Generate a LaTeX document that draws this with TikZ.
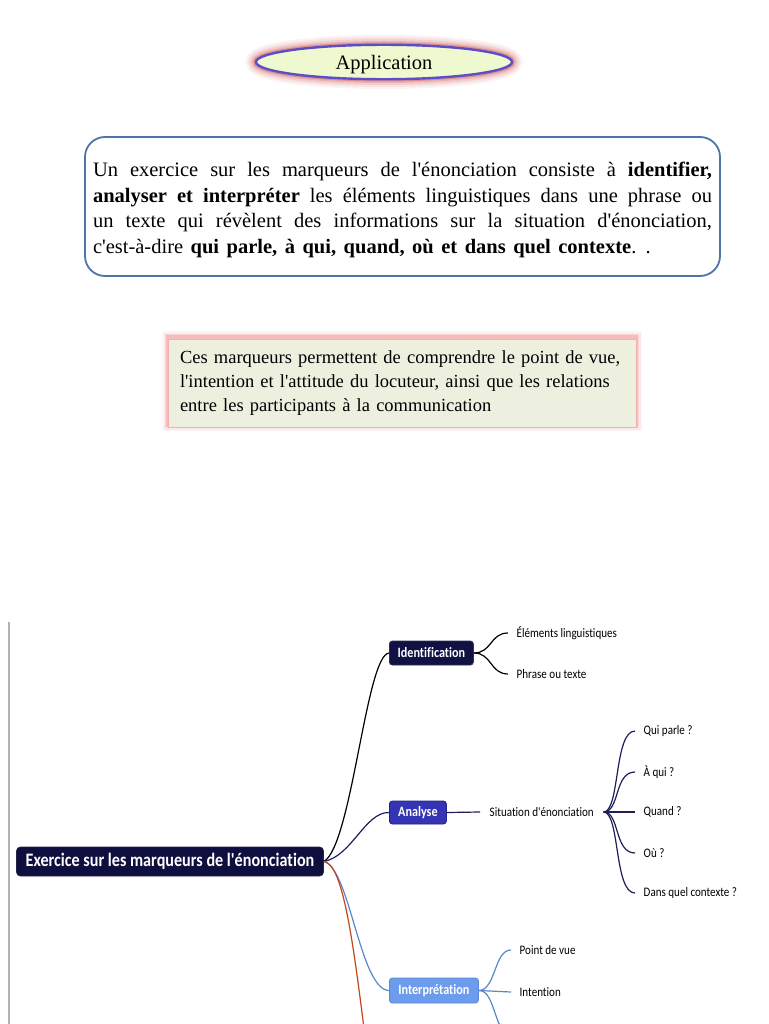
\documentclass[tikz,border=0pt]{standalone}
\usepackage{fontspec}
\setmainfont{Liberation Serif}[Ligatures=TeXOff]
\newfontfamily\mapcond{Carlito}[Ligatures=CommonOff, FakeStretch=0.85]
\usetikzlibrary{shapes.geometric}
\definecolor{appfill}{HTML}{EEF9CF}
\definecolor{appborder}{HTML}{5B4FC8}
\definecolor{appglow}{HTML}{D05A5A}
\definecolor{boxblue}{HTML}{4E74A8}
\definecolor{notefill}{HTML}{EEF0DF}
\definecolor{noteglow}{HTML}{F08C8C}
\definecolor{rootfill}{HTML}{0F0F3F}
\definecolor{idfill}{HTML}{111145}
\definecolor{anfill}{HTML}{3434B4}
\definecolor{anborder}{HTML}{22228C}
\definecolor{infill}{HTML}{6C9CEB}
\definecolor{inborder}{HTML}{5A88D8}
\definecolor{navyline}{HTML}{1E1E5A}
\definecolor{blueline}{HTML}{5A86D0}
\definecolor{orangeline}{HTML}{C4461A}
\tikzset{
  rootbox/.style={rounded corners=4pt, fill=rootfill, draw=rootfill!80!gray, line width=0.8pt,
    minimum width=307pt, minimum height=29pt, inner sep=0pt, text=white,
    font=\mapcond\bfseries\fontsize{19}{22}\selectfont},
  midbox/.style={rounded corners=3pt, minimum height=24pt, inner sep=0pt, text=white, anchor=west,
    line width=0.8pt, font=\mapcond\bfseries\fontsize{14.3}{16}\selectfont},
  leaf/.style={anchor=west, inner xsep=8.5pt, inner ysep=2pt, text=black,
    font=\mapcond\fontsize{13}{15}\selectfont},
  link/.style={line width=1.2pt},
}
\begin{document}
\begin{tikzpicture}[x=1pt,y=-1pt]
\useasboundingbox (0,0) rectangle (768,1024);
\clip (0,0) rectangle (768,1024);
% Application ellipse with glow
\foreach \w/\o in {20/0.08,16/0.1,12/0.15,8/0.25,5/0.4}
  \draw[appglow, opacity=\o, line width=\w pt] (384,62) ellipse [x radius=128pt, y radius=17pt];
\node[ellipse, minimum width=256pt, minimum height=34pt, inner sep=0pt, draw=appborder,
  line width=2.4pt, fill=appfill, font=\fontsize{20.5}{24}\selectfont] (app) at (384,62) {\rule{0pt}{20pt}Application};
% intro box
\node[draw=boxblue, line width=1.8pt, rounded corners=20pt, minimum width=635pt,
  minimum height=139pt, inner xsep=8pt, inner ysep=0pt, fill=white] (intro) at (402.5,206.5)
  {\parbox{619pt}{\vspace*{7pt}\fontsize{20.5}{25.8}\selectfont\spaceskip=7.5pt plus 4pt minus 1.5pt
  Un exercice sur les marqueurs de l'énonciation consiste à \textbf{identifier,}\linebreak
  \textbf{analyser et interpréter} les éléments linguistiques dans une phrase ou\linebreak
  un texte qui révèlent des informations sur la situation d'énonciation,\linebreak
  c'est-à-dire \textbf{qui parle, à qui, quand, où et dans quel contexte}. .}};
% note box with glow
\foreach \w/\o in {12/0.08,9/0.12,6/0.2,3.5/0.35}
  \draw[noteglow, opacity=\o, line width=\w pt] (168,337) rectangle (636,425);
\node[fill=notefill, draw=noteglow!70, line width=1pt, minimum width=468pt, minimum height=88pt,
  inner xsep=12pt, inner ysep=0pt, text width=444pt, align=left,
  font=\fontsize{18.5}{24}\selectfont] (note) at (402,383)
  {Ces marqueurs permettent de comprendre le point de vue,\\
   l'intention et l'attitude du locuteur, ainsi que les relations\\
   entre les participants à la communication};
% mind map
\draw[gray!60, line width=1.3pt] (9,622) -- (9,1024);
\node[rootbox] (root) at (170,861.5) {Exercice sur les marqueurs de l'énonciation};
\node[midbox, fill=idfill, draw=idfill!70!gray, minimum width=84pt] (idn) at (389,653) {Identification};
\node[midbox, fill=anfill, draw=anborder, minimum width=57pt, minimum height=23pt] (an) at (389,812.5) {Analyse};
\node[midbox, fill=infill, draw=inborder, minimum width=89pt, minimum height=25pt] (int) at (389,990.5) {Interprétation};
% leaves
\node[leaf] (el) at (508,633) {Éléments linguistiques};
\node[leaf] (ph) at (508,674) {Phrase ou texte};
\node[leaf, inner xsep=9.5pt] (sit) at (480,812) {Situation d'énonciation};
\node[leaf] (q1) at (635,731) {Qui parle ?};
\node[leaf] (q2) at (635,772) {À qui ?};
\node[leaf] (q3) at (635,812) {Quand ?};
\node[leaf] (q4) at (635,853) {Où ?};
\node[leaf] (q5) at (635,893) {Dans quel contexte ?};
\node[leaf] (pv) at (511,950) {Point de vue};
\node[leaf] (it) at (511,992) {Intention};
\coordinate (third) at (512,1036);
\coordinate (down) at (366,1045);
% root connectors
\draw[link, black] (root.east) .. controls (352,845) and (366,655) .. (idn.west);
\draw[link, navyline] (root.east) .. controls (352,856) and (365,812) .. (an.west);
\draw[link, blueline] (root.east) .. controls (350,868) and (360,990) .. (int.west);
\draw[link, orangeline] (root.east) .. controls (342,864) and (352,930) .. (down);
% identification
\draw[link, black] (idn.east) .. controls (492,653) and (490,633) .. (el.west);
\draw[link, black] (idn.east) .. controls (492,653) and (490,674) .. (ph.west);
% analyse
\draw[link, navyline] (an.east) -- (sit.west);
\foreach \q/\y in {q1/731,q2/772,q3/812,q4/853,q5/893}
  \draw[link, navyline] (sit.east) .. controls (620,812) and (614,\y) .. (\q.west);
% interpretation
\draw[link, blueline] (int.east) .. controls (496,990) and (494,950) .. (pv.west);
\draw[link, blueline] (int.east) -- (it.west);
\draw[link, blueline] (int.east) .. controls (496,990) and (494,1036) .. (third);
\end{tikzpicture}
\end{document}
